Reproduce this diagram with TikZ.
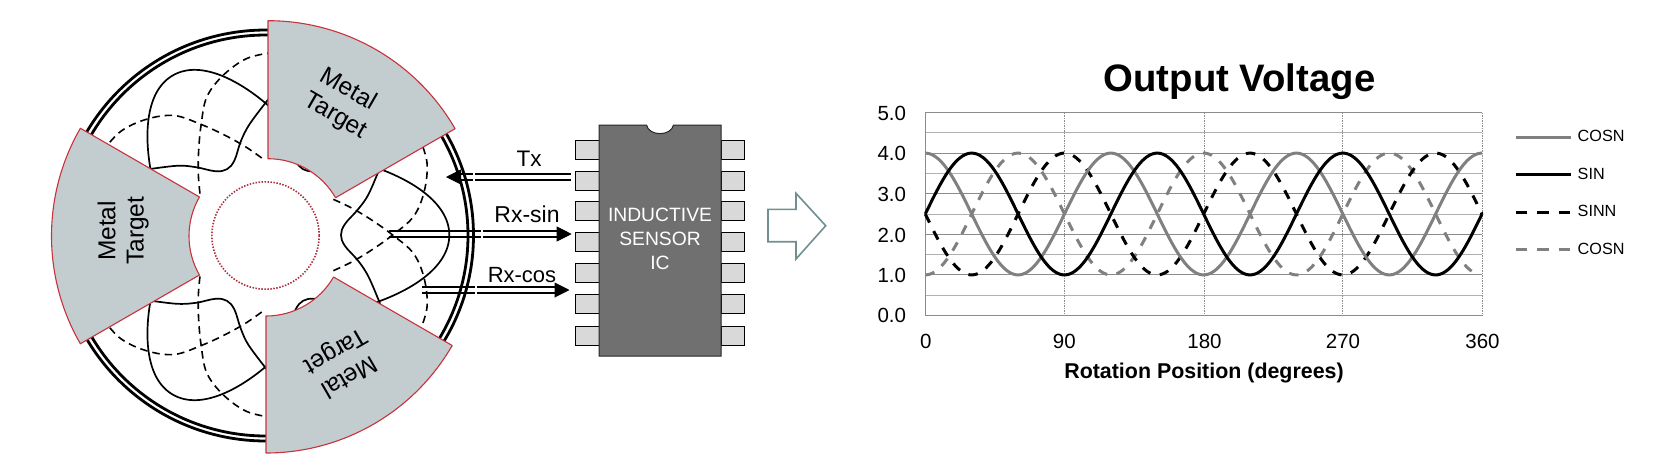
\documentclass[tikz,border=0pt]{standalone}
\usepackage{fontspec}
\setmainfont{Liberation Sans}
\usetikzlibrary{calc,arrows.meta}
\definecolor{targetfill}{HTML}{C3CDD0}
\definecolor{targetred}{HTML}{C8323C}
\definecolor{dotred}{HTML}{B03040}
\definecolor{chipgray}{HTML}{707070}
\definecolor{pingray}{HTML}{D9D9D9}
\definecolor{hollow}{HTML}{6F8F90}
\definecolor{curvegray}{HTML}{808080}
\definecolor{gridmajor}{HTML}{8C8C8C}
\definecolor{gridminor}{HTML}{B0B0B0}
\newcommand\fsz[1]{\fontsize{#1}{#1}\selectfont}
\tikzset{
  txt/.style={inner sep=0pt,outer sep=0pt},
  solidcoil/.style={draw=black,line width=1.7pt},
  dashcoil/.style={draw=black,line width=1.6pt,dash pattern=on 7.5pt off 5pt},
  ringline/.style={draw=black,line width=2.8pt},
  targetshape/.style={fill=targetfill,draw=targetred,line width=1.1pt,line join=round},
  rail/.style={draw=black,line width=2.8pt},
  railtip/.style={draw=black,line width=1pt,-{Triangle[length=15pt,width=15pt]}},
  pinbox/.style={fill=pingray,draw=black,line width=1pt},
  curve/.style={line width=3pt,line cap=butt},
  dashedcurve/.style={line width=3pt,dash pattern=on 9.5pt off 9.5pt},
}
\newcommand\rails[2]{%
  \draw[rail] ($(#1)+(0,3)$) -- ($(#2)+(0,3)$);
  \draw[rail] ($(#1)+(0,-3)$) -- ($(#2)+(0,-3)$);}
\begin{document}
\begin{tikzpicture}[x=1pt,y=-1pt]
\useasboundingbox (0,0) rectangle (1675,475);
% coils
\begin{scope}[shift={(265,235)},x=0.3333pt,y=0.3333pt]
  \foreach \a in {0,120,240}{
    \begin{scope}[rotate=\a]
      \draw[solidcoil] (325,205) .. controls (430,170) and (553,100) .. (553,0) .. controls (553,-100) and (430,-170) .. (325,-205);
      \draw[solidcoil] plot[smooth,tension=.6] coordinates {(350,215) (312,125) (280,78) (240,33) (228,0) (240,-33) (280,-78) (312,-128) (350,-218)};
      \draw[dashcoil] plot[smooth,tension=.6] coordinates {(205,107) (260,81) (320,45) (383,0) (446,-56) (478,-132) (486,-217) (464,-290)};
      \draw[dashcoil] plot[smooth,tension=.6] coordinates {(205,-107) (260,-81) (320,-45) (383,0) (446,56) (478,132) (486,217) (464,290)};
    \end{scope}}
  \foreach \a in {60,300}{
    \begin{scope}[rotate=\a]
      \draw[solidcoil] plot[smooth,tension=.6] coordinates {(280,78) (240,33) (228,0) (240,-33) (280,-78)};
    \end{scope}}
\end{scope}
% rings
\draw[ringline] (266,235.5) ellipse [x radius=207.5,y radius=205.5];
\draw[ringline] (266,235.5) ellipse [x radius=202,y radius=200.5];
% dotted inner circle
\draw[dotred,line width=1.6pt,dash pattern=on 1.5pt off 1.5pt] (265.5,235.5) circle [radius=53.7];
% targets
\begin{scope}[shift={(268,236.7)},x=1pt,y=1pt]
  \draw[targetshape] (90:78) -- (90:216) arc[start angle=90,end angle=30,radius=216] -- (30:78) arc[start angle=30,end angle=90,radius=78] -- cycle;
\end{scope}
\begin{scope}[shift={(267,236)},x=1pt,y=1pt]
  \draw[targetshape] (150:78) -- (150:215.5) arc[start angle=150,end angle=210,radius=215.5] -- (210:78) arc[start angle=210,end angle=150,radius=78] -- cycle;
\end{scope}
\begin{scope}[shift={(266,238)},x=1pt,y=1pt]
  \draw[targetshape] (-90:78) -- (-90:215) arc[start angle=-90,end angle=-30,radius=215] -- (-30:78) arc[start angle=-30,end angle=-90,radius=78] -- cycle;
\end{scope}
\node[txt,rotate=-30,font=\fsz{24.5}] (topmetal) at (349.3,88) {Metal};
\node[txt,rotate=-30,font=\fsz{24.5}] (toptarget) at (335,116.7) {Target};
\node[txt,rotate=90,font=\fsz{24.5}] (leftmetal) at (106.7,231) {Metal};
\node[txt,rotate=90,font=\fsz{24.5}] (lefttarget) at (137.7,230.7) {Target};
\node[txt,rotate=210,font=\fsz{24.5}] (botmetal) at (350,378) {Metal};
\node[txt,rotate=210,font=\fsz{24.5}] (bottarget) at (335,350) {Target};
% IC
\foreach \t in {140,171,201.7,232.3,263.3,294,326}{
  \draw[pinbox] (575.3,\t) rectangle (599,\t+19);
  \draw[pinbox] (721,\t) rectangle (744.7,\t+19);
}
\draw[fill=chipgray,draw=black!85,line width=1pt] (599,125) -- (646.5,125) .. controls (649,136.5) and (671,136.5) .. (673.5,125) -- (721,125) -- (721,356) -- (599,356) -- cycle;
\node[txt,white,align=center,font=\fontsize{19.3}{23.8}\selectfont] (ic) at (660,238.9) {INDUCTIVE\\SENSOR\\IC};
% signal arrows
\coordinate (txa) at (570.7,177);
\coordinate (txb) at (475,177);
\coordinate (txc) at (473,177);
\coordinate (txd) at (458,177);
\coordinate (txe) at (446,177);
\coordinate (sa) at (389,234);
\coordinate (sb) at (480.7,234);
\coordinate (sc) at (482.7,234);
\coordinate (sd) at (558,234);
\coordinate (se) at (571.7,234);
\coordinate (ca) at (422,290);
\coordinate (cb) at (474.7,290);
\coordinate (cc) at (476.7,290);
\coordinate (cd) at (556,290);
\coordinate (ce) at (569.5,290);
\rails{txa}{txb}\rails{txc}{txd}
\draw[railtip] (txd) -- (txe);
\rails{sa}{sb}\rails{sc}{sd}
\draw[railtip] (sd) -- (se);
\rails{ca}{cb}\rails{cc}{cd}
\draw[railtip] (cd) -- (ce);
\node[txt,anchor=base,font=\fsz{22.5}] (tx) at (529,166.5) {Tx};
\node[txt,anchor=base,font=\fsz{23}] (rxsin) at (527,222.7) {Rx-sin};
\node[txt,anchor=base,font=\fsz{22}] (rxcos) at (522,282.7) {Rx-cos};
% hollow arrow
\draw[hollow,line width=1.6pt,line join=miter] (768,209.3) -- (796,209.3) -- (796,193.3) -- (825.7,225.7) -- (796,259) -- (796,241.7) -- (768,241.7) -- cycle;
% chart
\node[txt,anchor=base,font=\bfseries\fsz{38.3}] (title) at (1239.5,91) {Output Voltage};
\foreach \v in {0.5,1.5,2.5,3.5,4.5}{
  \draw[gridminor,line width=.9pt] (925.3,{315.5-40.6*\v}) -- (1482,{315.5-40.6*\v});
}
\foreach \v in {1,2,3,4}{
  \draw[gridmajor,line width=1pt] (925.3,{315.5-40.6*\v}) -- (1482,{315.5-40.6*\v});
}
\foreach \x in {1064.3,1204.3,1342.3,1482}{
  \draw[gridmajor,line width=.7pt,dash pattern=on 1.5pt off 1pt] (\x,112.5) -- (\x,315.5);
}
\draw[gridmajor,line width=1pt] (1482,112.5) -- (925.3,112.5) -- (925.3,315.5) -- (1482,315.5);
\draw[curvegray,dashedcurve] plot[domain=0:354,samples=240,variable=\t] ({925.3+\t*1.54639},{315.5-40.6*(2.5-1.5*cos(3*\t))});
\draw[black,dashedcurve] plot[domain=0:360,samples=240,variable=\t] ({925.3+\t*1.54639},{315.5-40.6*(2.5-1.5*sin(3*\t))});
\draw[curvegray,curve] plot[domain=0:360,samples=240,variable=\t] ({925.3+\t*1.54639},{315.5-40.6*(2.5+1.5*cos(3*\t))});
\draw[black,curve] plot[domain=0:360,samples=240,variable=\t] ({925.3+\t*1.54639},{315.5-40.6*(2.5+1.5*sin(3*\t))});
\node[txt,anchor=east,font=\fsz{20.5}] (y5) at (906,113) {5.0};
\node[txt,anchor=east,font=\fsz{20.5}] (y4) at (906,153.3) {4.0};
\node[txt,anchor=east,font=\fsz{20.5}] (y3) at (906,194.3) {3.0};
\node[txt,anchor=east,font=\fsz{20.5}] (y2) at (906,235) {2.0};
\node[txt,anchor=east,font=\fsz{20.5}] (y1) at (906,275) {1.0};
\node[txt,anchor=east,font=\fsz{20.5}] (y0) at (906,315.7) {0.0};
\node[txt,font=\fsz{20.5}] (x0) at (925.8,341.7) {0};
\node[txt,font=\fsz{20.5}] (x90) at (1064.3,341.7) {90};
\node[txt,font=\fsz{20.5}] (x180) at (1204.5,341.7) {180};
\node[txt,font=\fsz{20.5}] (x270) at (1343,341.7) {270};
\node[txt,font=\fsz{20.5}] (x360) at (1482.5,341.7) {360};
\node[txt,anchor=base,font=\bfseries\fsz{21.4}] (xtitle) at (1204,378.6) {Rotation Position (degrees)};
% legend
\draw[curvegray,curve] (1515.7,137.3) -- (1571,137.3);
\draw[black,curve] (1515.7,174) -- (1571,174);
\draw[black,line width=3.4pt,dash pattern=on 11.5pt off 10pt] (1515.7,212.3) -- (1571,212.3);
\draw[curvegray,line width=3pt,dash pattern=on 11.5pt off 10pt] (1515.7,249) -- (1571,249);
\node[txt,anchor=west,font=\fsz{16.2}] (l1) at (1577.7,136) {COSN};
\node[txt,anchor=west,font=\fsz{16.2}] (l2) at (1577.7,174) {SIN};
\node[txt,anchor=west,font=\fsz{16.2}] (l3) at (1577.7,211) {SINN};
\node[txt,anchor=west,font=\fsz{16.2}] (l4) at (1577.7,249.3) {COSN};
\end{tikzpicture}
\end{document}
